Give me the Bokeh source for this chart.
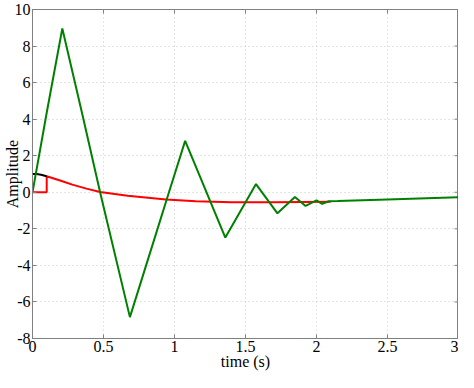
import math
from bokeh.plotting import figure
from bokeh.models import Range1d, FixedTicker, PrintfTickFormatter
from bokeh.embed import file_html
from bokeh.resources import INLINE

# ---- data ----
green_t = [0.0, 0.10, 0.21, 0.35, 0.476, 0.686, 0.875, 0.961, 1.075, 1.358,
           1.574, 1.725, 1.848, 1.923, 2.0, 2.04, 2.087, 2.15, 2.5, 3.0]
green_y = [0.0, 4.35, 8.96, 4.30, 0.0, -6.83, -2.14, 0.0, 2.81, -2.48,
           0.45, -1.15, -0.26, -0.75, -0.44, -0.63, -0.49, -0.48, -0.39, -0.27]

red_t = [0.0, 0.1, 0.1, 0.2, 0.28, 0.38, 0.476, 0.67, 0.94, 1.15, 1.4, 1.7, 2.1]
red_y = [0.0, 0.0, 0.88, 0.63, 0.42, 0.20, 0.02, -0.19, -0.40, -0.49, -0.54, -0.55, -0.52]

black_t = [0.0, 0.03, 0.06, 0.1]
black_y = [1.0, 1.0, 0.96, 0.88]

x_ticks = [0, 0.5, 1, 1.5, 2, 2.5, 3]
y_ticks = [-8, -6, -4, -2, 0, 2, 4, 6, 8, 10]

FONT = "'Liberation Serif', 'Times New Roman', serif"
AXC = "#808080"

p = figure(width=458, height=372, output_backend="svg", toolbar_location=None,
           x_range=Range1d(0, 3), y_range=Range1d(-8, 10),
           min_border_left=0, min_border_bottom=0, min_border_top=9, min_border_right=0)
p.background_fill_color = "white"
p.border_fill_color = "white"
p.outline_line_color = AXC
p.outline_line_width = 1

for g, ticks in ((p.xgrid[0], x_ticks), (p.ygrid[0], y_ticks)):
    g.ticker = FixedTicker(ticks=ticks)
    g.grid_line_color = "#c8c8c8"
    g.grid_line_dash = "1 3"
    g.grid_line_width = 1

p.line(red_t, red_y, line_color="#ff0000", line_width=2)
p.line(black_t, black_y, line_color="black", line_width=2)
p.line(green_t, green_y, line_color="#008000", line_width=2)

# tick marks on the top and right edges of the box
p.scatter(x_ticks, [y_ticks[-1]] * len(x_ticks), marker="dash", size=8,
          angle=math.pi / 2, line_color=AXC, line_width=1)
p.scatter([x_ticks[-1]] * len(y_ticks), y_ticks, marker="dash", size=8,
          line_color=AXC, line_width=1)

for ax, ticks in ((p.xaxis[0], x_ticks), (p.yaxis[0], y_ticks)):
    ax.ticker = FixedTicker(ticks=ticks)
    ax.formatter = PrintfTickFormatter(format="%g")
    ax.major_label_text_font = FONT
    ax.major_label_text_font_size = "16px"
    ax.major_label_text_color = "black"
    ax.axis_label_text_font = FONT
    ax.axis_label_text_font_size = "16px"
    ax.axis_label_text_font_style = "normal"
    ax.axis_label_text_color = "black"
    ax.axis_line_color = AXC
    ax.major_tick_line_color = AXC
    ax.major_tick_in = 4
    ax.major_tick_out = 0
    ax.minor_tick_line_color = None
    ax.major_label_standoff = 2

p.xaxis.axis_label = "time (s)"
p.xaxis.axis_label_standoff = -2
p.yaxis.axis_label = "Amplitude"
p.yaxis.axis_label_standoff = -9

open("out.html", "w").write(file_html(p, INLINE))
